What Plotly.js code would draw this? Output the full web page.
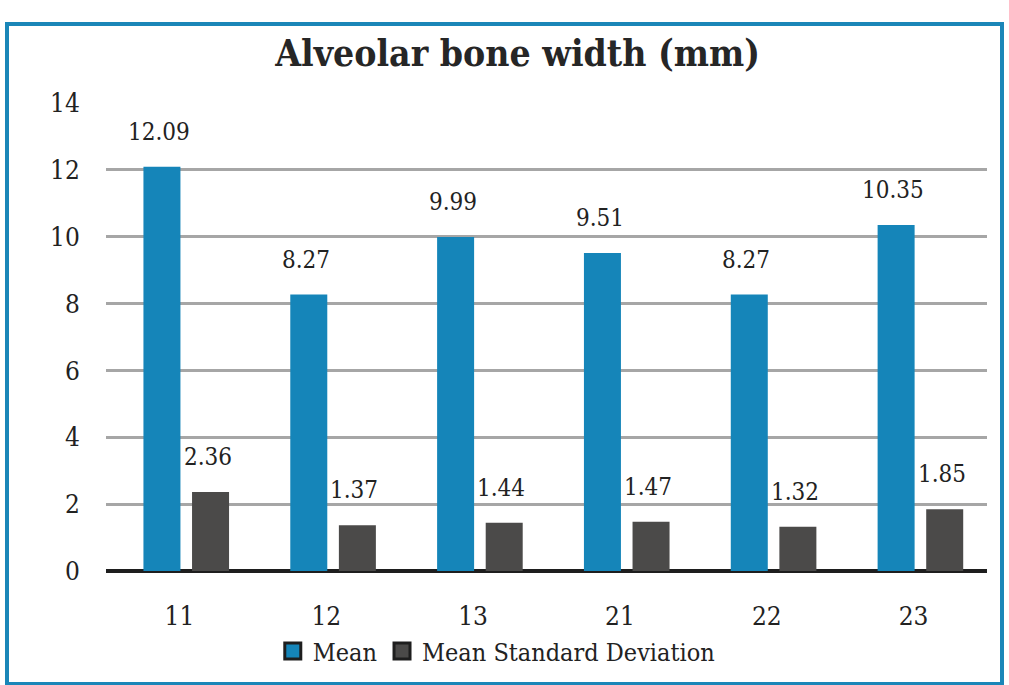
<!DOCTYPE html>
<html>
<head>
<meta charset="utf-8">
<script src="https://cdn.plot.ly/plotly-3.0.1.min.js"></script>
<style>
  body { margin: 0; background: #fff; }
  #wrap { position: relative; width: 1009px; height: 685px; }
  #plot { width: 1009px; height: 685px; }
  #frame {
    position: absolute; left: 5px; top: 22px; width: 991px; height: 656px;
    border: 4px solid #1a86b8; pointer-events: none;
  }
</style>
</head>
<body>
<div id="wrap">
  <div id="plot"></div>
  <div id="frame"></div>
</div>
<script>
// tooth positions
const teeth = ['11', '12', '13', '21', '22', '23'];
const meanWidth = [12.09, 8.27, 9.99, 9.51, 8.27, 10.35];
const meanSD = [2.36, 1.37, 1.44, 1.47, 1.32, 1.85];
const yTicks = [0, 2, 4, 6, 8, 10, 12, 14];

const FONT = '"DejaVu Serif Condensed", "DejaVu Serif", serif';
const blue = '#1585b9';
const grey = '#4b4a49';

// bar placement within a category (category units), like the excel original
const BAR_W = 0.252;
const series = [
  { name: 'Mean', y: meanWidth, color: blue, offset: -0.245 },
  { name: 'Mean Standard Deviation', y: meanSD, color: grey, offset: 0.086 }
];

const traces = [];
series.forEach(s => {
  traces.push({
    x: teeth, y: s.y, type: 'bar', name: s.name,
    width: BAR_W, offset: s.offset,
    marker: { color: s.color },
    showlegend: false, hoverinfo: 'skip'
  });
});
// legend entries with the bigger outlined squares of the original
series.forEach(s => {
  traces.push({
    x: [null], y: [null], type: 'scatter', mode: 'markers', name: s.name,
    marker: { symbol: 'square', size: 16, color: s.color, line: { color: '#1e1e1e', width: 3 } },
    hoverinfo: 'skip'
  });
});

// value labels sit above each bar
const labels = [];
series.forEach(s => {
  s.y.forEach((v, i) => {
    labels.push({
      x: i + s.offset + BAR_W / 2 - 0.02, y: v, xref: 'x', yref: 'y',
      text: v.toFixed(2), showarrow: false,
      yshift: 35, yanchor: 'middle',
      font: { family: FONT, size: 24, color: '#222' }
    });
  });
});

const layout = {
  width: 1009, height: 685,
  margin: { l: 106, r: 22, t: 103, b: 113 },
  paper_bgcolor: '#fff', plot_bgcolor: '#fff',
  title: {
    text: '<b>Alveolar bone width (mm)</b>',
    font: { family: FONT, size: 37, color: '#262626' },
    x: 0.513, xanchor: 'center', y: 0.923, yanchor: 'middle'
  },
  barmode: 'overlay',
  xaxis: {
    type: 'category', range: [-0.5, 5.5], automargin: false,
    showgrid: false, showline: false, zeroline: false,
    ticks: 'outside', ticklen: 22, tickcolor: 'rgba(0,0,0,0)',
    tickfont: { family: FONT, size: 26, color: '#222' }
  },
  yaxis: {
    range: [0, 14], tickvals: yTicks, automargin: false,
    showgrid: true, gridcolor: '#a6a6a6', gridwidth: 3,
    zeroline: true, zerolinecolor: '#1e1e1e', zerolinewidth: 4,
    showline: false,
    ticks: 'outside', ticklen: 20, tickcolor: 'rgba(0,0,0,0)',
    tickfont: { family: FONT, size: 26, color: '#222' }
  },
  showlegend: true,
  legend: {
    orientation: 'h', x: 0.443, xanchor: 'center', y: -0.12, yanchor: 'top',
    font: { family: FONT, size: 25, color: '#222' },
    itemclick: false, itemdoubleclick: false
  },
  annotations: labels
};

Plotly.newPlot('plot', traces, layout, { displayModeBar: false, staticPlot: true });
</script>
</body>
</html>
